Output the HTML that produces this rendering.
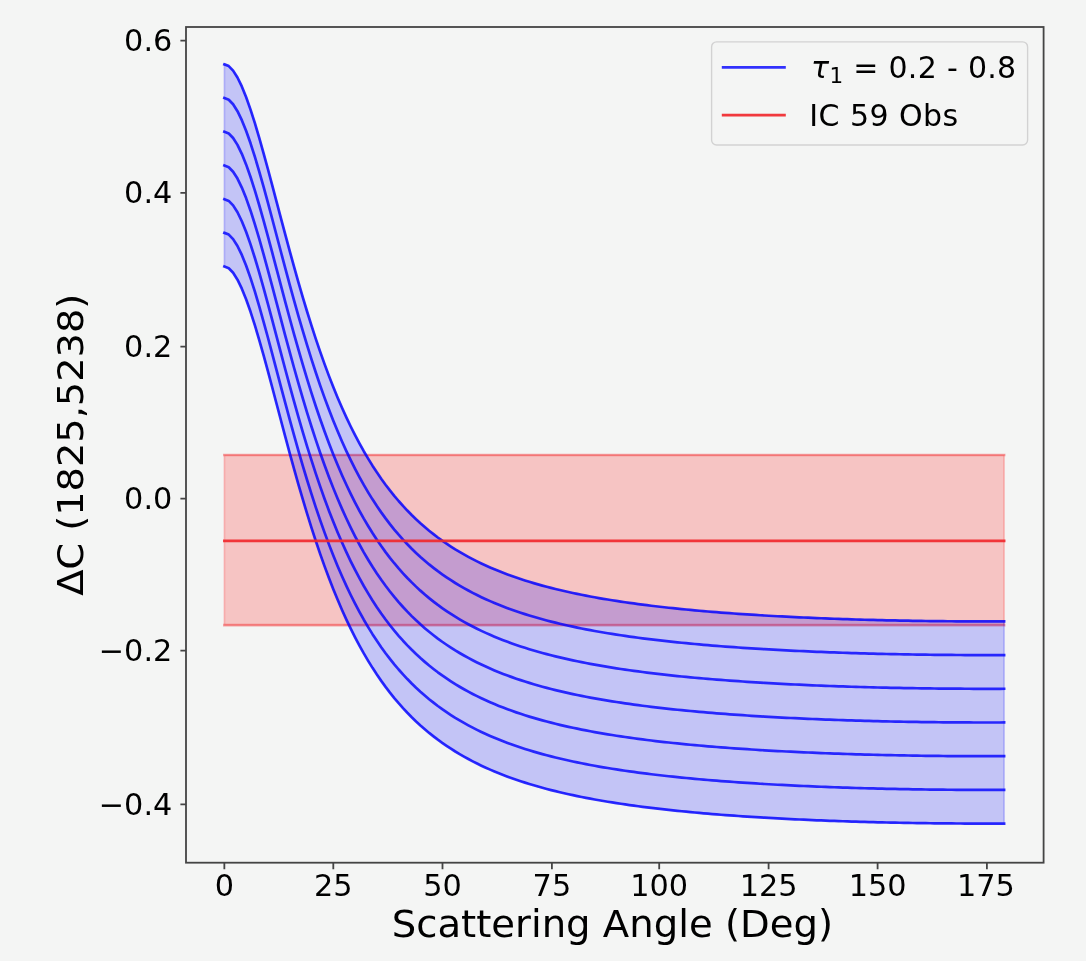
<!DOCTYPE html>
<html><head><meta charset="utf-8"><style>html,body{margin:0;padding:0;background:#f4f5f4;}svg{display:block;}</style></head><body>
<svg width="1086" height="961" viewBox="0 0 1086 961">
<rect width="1086" height="961" fill="#f4f5f4"/>
<g>
<rect x="224.40" y="455.0" width="779.72" height="170.20" fill="#ff0000" fill-opacity="0.2" stroke="#ff0000" stroke-opacity="0.2" stroke-width="1.7"/>
<g stroke="#f02a2e" stroke-opacity="0.38" stroke-width="2.7" stroke-linecap="square" fill="none"><path d="M224.40,455.0 H1004.12"/><path d="M224.40,625.2 H1004.12"/></g>
<path d="M224.40,64.38 L228.76,66.10 L233.11,70.60 L237.47,77.48 L241.82,86.46 L246.18,97.26 L250.54,109.60 L254.89,123.21 L259.25,137.85 L263.60,153.27 L267.96,169.24 L272.32,185.56 L276.67,202.05 L281.03,218.55 L285.38,234.94 L289.74,251.08 L294.10,266.90 L298.45,282.32 L302.81,297.28 L307.16,311.74 L311.52,325.67 L315.88,339.06 L320.23,351.88 L324.59,364.15 L328.94,375.86 L333.30,387.02 L337.66,397.65 L342.01,407.76 L346.37,417.37 L350.72,426.50 L355.08,435.17 L359.44,443.40 L363.79,451.21 L368.15,458.62 L372.50,465.66 L376.86,472.34 L381.22,478.68 L385.57,484.70 L389.93,490.42 L394.28,495.84 L398.64,501.00 L403.00,505.91 L407.35,510.57 L411.71,515.00 L416.06,519.22 L420.42,523.24 L424.78,527.06 L429.13,530.71 L433.49,534.18 L437.84,537.49 L442.20,540.65 L446.56,543.66 L450.91,546.54 L455.27,549.30 L459.62,551.92 L463.98,554.44 L468.34,556.84 L472.69,559.15 L477.05,561.35 L481.40,563.47 L485.76,565.49 L490.12,567.43 L494.47,569.30 L498.83,571.08 L503.18,572.80 L507.54,574.45 L511.90,576.04 L516.25,577.56 L520.61,579.03 L524.96,580.44 L529.32,581.80 L533.68,583.10 L538.03,584.37 L542.39,585.58 L546.74,586.75 L551.10,587.88 L555.46,588.97 L559.81,590.03 L564.17,591.04 L568.52,592.02 L572.88,592.97 L577.24,593.89 L581.59,594.78 L585.95,595.64 L590.30,596.47 L594.66,597.27 L599.02,598.05 L603.37,598.80 L607.73,599.53 L612.08,600.24 L616.44,600.92 L620.80,601.59 L625.15,602.23 L629.51,602.86 L633.86,603.46 L638.22,604.05 L642.58,604.62 L646.93,605.18 L651.29,605.72 L655.64,606.24 L660.00,606.75 L664.36,607.24 L668.71,607.72 L673.07,608.19 L677.42,608.64 L681.78,609.08 L686.14,609.51 L690.49,609.93 L694.85,610.33 L699.20,610.72 L703.56,611.11 L707.92,611.48 L712.27,611.84 L716.63,612.19 L720.98,612.54 L725.34,612.87 L729.70,613.20 L734.05,613.51 L738.41,613.82 L742.76,614.12 L747.12,614.41 L751.48,614.69 L755.83,614.96 L760.19,615.23 L764.54,615.49 L768.90,615.74 L773.26,615.99 L777.61,616.23 L781.97,616.46 L786.32,616.69 L790.68,616.90 L795.04,617.12 L799.39,617.32 L803.75,617.52 L808.10,617.72 L812.46,617.91 L816.82,618.09 L821.17,618.26 L825.53,618.44 L829.88,618.60 L834.24,618.76 L838.60,618.92 L842.95,619.07 L847.31,619.21 L851.66,619.35 L856.02,619.48 L860.38,619.61 L864.73,619.74 L869.09,619.86 L873.44,619.97 L877.80,620.08 L882.16,620.19 L886.51,620.29 L890.87,620.38 L895.22,620.47 L899.58,620.56 L903.94,620.64 L908.29,620.72 L912.65,620.79 L917.00,620.86 L921.36,620.93 L925.72,620.99 L930.07,621.04 L934.43,621.10 L938.78,621.14 L943.14,621.19 L947.50,621.23 L951.85,621.26 L956.21,621.29 L960.56,621.32 L964.92,621.34 L969.28,621.36 L973.63,621.38 L977.99,621.39 L982.34,621.39 L986.70,621.40 L991.06,621.39 L995.41,621.39 L999.77,621.38 L1004.12,621.37 L1004.12,823.57 L999.77,823.58 L995.41,823.59 L991.06,823.59 L986.70,823.60 L982.34,823.59 L977.99,823.59 L973.63,823.58 L969.28,823.56 L964.92,823.54 L960.56,823.52 L956.21,823.49 L951.85,823.46 L947.50,823.43 L943.14,823.39 L938.78,823.34 L934.43,823.30 L930.07,823.24 L925.72,823.19 L921.36,823.13 L917.00,823.06 L912.65,822.99 L908.29,822.92 L903.94,822.84 L899.58,822.76 L895.22,822.67 L890.87,822.58 L886.51,822.49 L882.16,822.39 L877.80,822.28 L873.44,822.17 L869.09,822.06 L864.73,821.94 L860.38,821.81 L856.02,821.68 L851.66,821.55 L847.31,821.41 L842.95,821.27 L838.60,821.12 L834.24,820.96 L829.88,820.80 L825.53,820.64 L821.17,820.46 L816.82,820.29 L812.46,820.11 L808.10,819.92 L803.75,819.72 L799.39,819.52 L795.04,819.32 L790.68,819.10 L786.32,818.89 L781.97,818.66 L777.61,818.43 L773.26,818.19 L768.90,817.94 L764.54,817.69 L760.19,817.43 L755.83,817.16 L751.48,816.89 L747.12,816.61 L742.76,816.32 L738.41,816.02 L734.05,815.71 L729.70,815.40 L725.34,815.07 L720.98,814.74 L716.63,814.39 L712.27,814.04 L707.92,813.68 L703.56,813.31 L699.20,812.92 L694.85,812.53 L690.49,812.13 L686.14,811.71 L681.78,811.28 L677.42,810.84 L673.07,810.39 L668.71,809.92 L664.36,809.44 L660.00,808.95 L655.64,808.44 L651.29,807.92 L646.93,807.38 L642.58,806.82 L638.22,806.25 L633.86,805.66 L629.51,805.06 L625.15,804.43 L620.80,803.79 L616.44,803.12 L612.08,802.44 L607.73,801.73 L603.37,801.00 L599.02,800.25 L594.66,799.47 L590.30,798.67 L585.95,797.84 L581.59,796.98 L577.24,796.09 L572.88,795.17 L568.52,794.22 L564.17,793.24 L559.81,792.23 L555.46,791.17 L551.10,790.08 L546.74,788.95 L542.39,787.78 L538.03,786.57 L533.68,785.30 L529.32,784.00 L524.96,782.64 L520.61,781.23 L516.25,779.76 L511.90,778.24 L507.54,776.65 L503.18,775.00 L498.83,773.28 L494.47,771.50 L490.12,769.63 L485.76,767.69 L481.40,765.67 L477.05,763.55 L472.69,761.35 L468.34,759.04 L463.98,756.64 L459.62,754.12 L455.27,751.50 L450.91,748.74 L446.56,745.86 L442.20,742.85 L437.84,739.69 L433.49,736.38 L429.13,732.91 L424.78,729.26 L420.42,725.44 L416.06,721.42 L411.71,717.20 L407.35,712.77 L403.00,708.11 L398.64,703.20 L394.28,698.04 L389.93,692.62 L385.57,686.90 L381.22,680.88 L376.86,674.54 L372.50,667.86 L368.15,660.82 L363.79,653.41 L359.44,645.60 L355.08,637.37 L350.72,628.70 L346.37,619.57 L342.01,609.96 L337.66,599.85 L333.30,589.22 L328.94,578.06 L324.59,566.35 L320.23,554.08 L315.88,541.26 L311.52,527.87 L307.16,513.94 L302.81,499.48 L298.45,484.52 L294.10,469.10 L289.74,453.28 L285.38,437.14 L281.03,420.75 L276.67,404.25 L272.32,387.76 L267.96,371.44 L263.60,355.47 L259.25,340.05 L254.89,325.41 L250.54,311.80 L246.18,299.46 L241.82,288.66 L237.47,279.68 L233.11,272.80 L228.76,268.30 L224.40,266.58 Z" fill="#0000ff" fill-opacity="0.2" stroke="#0000ff" stroke-opacity="0.2" stroke-width="1.7"/>
<g fill="none" stroke="#0000ff" stroke-opacity="0.8" stroke-width="2.7" stroke-linejoin="round" stroke-linecap="square">
<path d="M224.40,64.38 L228.76,66.10 L233.11,70.60 L237.47,77.48 L241.82,86.46 L246.18,97.26 L250.54,109.60 L254.89,123.21 L259.25,137.85 L263.60,153.27 L267.96,169.24 L272.32,185.56 L276.67,202.05 L281.03,218.55 L285.38,234.94 L289.74,251.08 L294.10,266.90 L298.45,282.32 L302.81,297.28 L307.16,311.74 L311.52,325.67 L315.88,339.06 L320.23,351.88 L324.59,364.15 L328.94,375.86 L333.30,387.02 L337.66,397.65 L342.01,407.76 L346.37,417.37 L350.72,426.50 L355.08,435.17 L359.44,443.40 L363.79,451.21 L368.15,458.62 L372.50,465.66 L376.86,472.34 L381.22,478.68 L385.57,484.70 L389.93,490.42 L394.28,495.84 L398.64,501.00 L403.00,505.91 L407.35,510.57 L411.71,515.00 L416.06,519.22 L420.42,523.24 L424.78,527.06 L429.13,530.71 L433.49,534.18 L437.84,537.49 L442.20,540.65 L446.56,543.66 L450.91,546.54 L455.27,549.30 L459.62,551.92 L463.98,554.44 L468.34,556.84 L472.69,559.15 L477.05,561.35 L481.40,563.47 L485.76,565.49 L490.12,567.43 L494.47,569.30 L498.83,571.08 L503.18,572.80 L507.54,574.45 L511.90,576.04 L516.25,577.56 L520.61,579.03 L524.96,580.44 L529.32,581.80 L533.68,583.10 L538.03,584.37 L542.39,585.58 L546.74,586.75 L551.10,587.88 L555.46,588.97 L559.81,590.03 L564.17,591.04 L568.52,592.02 L572.88,592.97 L577.24,593.89 L581.59,594.78 L585.95,595.64 L590.30,596.47 L594.66,597.27 L599.02,598.05 L603.37,598.80 L607.73,599.53 L612.08,600.24 L616.44,600.92 L620.80,601.59 L625.15,602.23 L629.51,602.86 L633.86,603.46 L638.22,604.05 L642.58,604.62 L646.93,605.18 L651.29,605.72 L655.64,606.24 L660.00,606.75 L664.36,607.24 L668.71,607.72 L673.07,608.19 L677.42,608.64 L681.78,609.08 L686.14,609.51 L690.49,609.93 L694.85,610.33 L699.20,610.72 L703.56,611.11 L707.92,611.48 L712.27,611.84 L716.63,612.19 L720.98,612.54 L725.34,612.87 L729.70,613.20 L734.05,613.51 L738.41,613.82 L742.76,614.12 L747.12,614.41 L751.48,614.69 L755.83,614.96 L760.19,615.23 L764.54,615.49 L768.90,615.74 L773.26,615.99 L777.61,616.23 L781.97,616.46 L786.32,616.69 L790.68,616.90 L795.04,617.12 L799.39,617.32 L803.75,617.52 L808.10,617.72 L812.46,617.91 L816.82,618.09 L821.17,618.26 L825.53,618.44 L829.88,618.60 L834.24,618.76 L838.60,618.92 L842.95,619.07 L847.31,619.21 L851.66,619.35 L856.02,619.48 L860.38,619.61 L864.73,619.74 L869.09,619.86 L873.44,619.97 L877.80,620.08 L882.16,620.19 L886.51,620.29 L890.87,620.38 L895.22,620.47 L899.58,620.56 L903.94,620.64 L908.29,620.72 L912.65,620.79 L917.00,620.86 L921.36,620.93 L925.72,620.99 L930.07,621.04 L934.43,621.10 L938.78,621.14 L943.14,621.19 L947.50,621.23 L951.85,621.26 L956.21,621.29 L960.56,621.32 L964.92,621.34 L969.28,621.36 L973.63,621.38 L977.99,621.39 L982.34,621.39 L986.70,621.40 L991.06,621.39 L995.41,621.39 L999.77,621.38 L1004.12,621.37"/>
<path d="M224.40,98.08 L228.76,99.80 L233.11,104.30 L237.47,111.18 L241.82,120.16 L246.18,130.96 L250.54,143.30 L254.89,156.91 L259.25,171.55 L263.60,186.97 L267.96,202.94 L272.32,219.26 L276.67,235.75 L281.03,252.25 L285.38,268.64 L289.74,284.78 L294.10,300.60 L298.45,316.02 L302.81,330.98 L307.16,345.44 L311.52,359.37 L315.88,372.76 L320.23,385.58 L324.59,397.85 L328.94,409.56 L333.30,420.72 L337.66,431.35 L342.01,441.46 L346.37,451.07 L350.72,460.20 L355.08,468.87 L359.44,477.10 L363.79,484.91 L368.15,492.32 L372.50,499.36 L376.86,506.04 L381.22,512.38 L385.57,518.40 L389.93,524.12 L394.28,529.54 L398.64,534.70 L403.00,539.61 L407.35,544.27 L411.71,548.70 L416.06,552.92 L420.42,556.94 L424.78,560.76 L429.13,564.41 L433.49,567.88 L437.84,571.19 L442.20,574.35 L446.56,577.36 L450.91,580.24 L455.27,583.00 L459.62,585.62 L463.98,588.14 L468.34,590.54 L472.69,592.85 L477.05,595.05 L481.40,597.17 L485.76,599.19 L490.12,601.13 L494.47,603.00 L498.83,604.78 L503.18,606.50 L507.54,608.15 L511.90,609.74 L516.25,611.26 L520.61,612.73 L524.96,614.14 L529.32,615.50 L533.68,616.80 L538.03,618.07 L542.39,619.28 L546.74,620.45 L551.10,621.58 L555.46,622.67 L559.81,623.73 L564.17,624.74 L568.52,625.72 L572.88,626.67 L577.24,627.59 L581.59,628.48 L585.95,629.34 L590.30,630.17 L594.66,630.97 L599.02,631.75 L603.37,632.50 L607.73,633.23 L612.08,633.94 L616.44,634.62 L620.80,635.29 L625.15,635.93 L629.51,636.56 L633.86,637.16 L638.22,637.75 L642.58,638.32 L646.93,638.88 L651.29,639.42 L655.64,639.94 L660.00,640.45 L664.36,640.94 L668.71,641.42 L673.07,641.89 L677.42,642.34 L681.78,642.78 L686.14,643.21 L690.49,643.63 L694.85,644.03 L699.20,644.42 L703.56,644.81 L707.92,645.18 L712.27,645.54 L716.63,645.89 L720.98,646.24 L725.34,646.57 L729.70,646.90 L734.05,647.21 L738.41,647.52 L742.76,647.82 L747.12,648.11 L751.48,648.39 L755.83,648.66 L760.19,648.93 L764.54,649.19 L768.90,649.44 L773.26,649.69 L777.61,649.93 L781.97,650.16 L786.32,650.39 L790.68,650.60 L795.04,650.82 L799.39,651.02 L803.75,651.22 L808.10,651.42 L812.46,651.61 L816.82,651.79 L821.17,651.96 L825.53,652.14 L829.88,652.30 L834.24,652.46 L838.60,652.62 L842.95,652.77 L847.31,652.91 L851.66,653.05 L856.02,653.18 L860.38,653.31 L864.73,653.44 L869.09,653.56 L873.44,653.67 L877.80,653.78 L882.16,653.89 L886.51,653.99 L890.87,654.08 L895.22,654.17 L899.58,654.26 L903.94,654.34 L908.29,654.42 L912.65,654.49 L917.00,654.56 L921.36,654.63 L925.72,654.69 L930.07,654.74 L934.43,654.80 L938.78,654.84 L943.14,654.89 L947.50,654.93 L951.85,654.96 L956.21,654.99 L960.56,655.02 L964.92,655.04 L969.28,655.06 L973.63,655.08 L977.99,655.09 L982.34,655.09 L986.70,655.10 L991.06,655.09 L995.41,655.09 L999.77,655.08 L1004.12,655.07"/>
<path d="M224.40,131.78 L228.76,133.50 L233.11,138.00 L237.47,144.88 L241.82,153.86 L246.18,164.66 L250.54,177.00 L254.89,190.61 L259.25,205.25 L263.60,220.67 L267.96,236.64 L272.32,252.96 L276.67,269.45 L281.03,285.95 L285.38,302.34 L289.74,318.48 L294.10,334.30 L298.45,349.72 L302.81,364.68 L307.16,379.14 L311.52,393.07 L315.88,406.46 L320.23,419.28 L324.59,431.55 L328.94,443.26 L333.30,454.42 L337.66,465.05 L342.01,475.16 L346.37,484.77 L350.72,493.90 L355.08,502.57 L359.44,510.80 L363.79,518.61 L368.15,526.02 L372.50,533.06 L376.86,539.74 L381.22,546.08 L385.57,552.10 L389.93,557.82 L394.28,563.24 L398.64,568.40 L403.00,573.31 L407.35,577.97 L411.71,582.40 L416.06,586.62 L420.42,590.64 L424.78,594.46 L429.13,598.11 L433.49,601.58 L437.84,604.89 L442.20,608.05 L446.56,611.06 L450.91,613.94 L455.27,616.70 L459.62,619.32 L463.98,621.84 L468.34,624.24 L472.69,626.55 L477.05,628.75 L481.40,630.87 L485.76,632.89 L490.12,634.83 L494.47,636.70 L498.83,638.48 L503.18,640.20 L507.54,641.85 L511.90,643.44 L516.25,644.96 L520.61,646.43 L524.96,647.84 L529.32,649.20 L533.68,650.50 L538.03,651.77 L542.39,652.98 L546.74,654.15 L551.10,655.28 L555.46,656.37 L559.81,657.43 L564.17,658.44 L568.52,659.42 L572.88,660.37 L577.24,661.29 L581.59,662.18 L585.95,663.04 L590.30,663.87 L594.66,664.67 L599.02,665.45 L603.37,666.20 L607.73,666.93 L612.08,667.64 L616.44,668.32 L620.80,668.99 L625.15,669.63 L629.51,670.26 L633.86,670.86 L638.22,671.45 L642.58,672.02 L646.93,672.58 L651.29,673.12 L655.64,673.64 L660.00,674.15 L664.36,674.64 L668.71,675.12 L673.07,675.59 L677.42,676.04 L681.78,676.48 L686.14,676.91 L690.49,677.33 L694.85,677.73 L699.20,678.12 L703.56,678.51 L707.92,678.88 L712.27,679.24 L716.63,679.59 L720.98,679.94 L725.34,680.27 L729.70,680.60 L734.05,680.91 L738.41,681.22 L742.76,681.52 L747.12,681.81 L751.48,682.09 L755.83,682.36 L760.19,682.63 L764.54,682.89 L768.90,683.14 L773.26,683.39 L777.61,683.63 L781.97,683.86 L786.32,684.09 L790.68,684.30 L795.04,684.52 L799.39,684.72 L803.75,684.92 L808.10,685.12 L812.46,685.31 L816.82,685.49 L821.17,685.66 L825.53,685.84 L829.88,686.00 L834.24,686.16 L838.60,686.32 L842.95,686.47 L847.31,686.61 L851.66,686.75 L856.02,686.88 L860.38,687.01 L864.73,687.14 L869.09,687.26 L873.44,687.37 L877.80,687.48 L882.16,687.59 L886.51,687.69 L890.87,687.78 L895.22,687.87 L899.58,687.96 L903.94,688.04 L908.29,688.12 L912.65,688.19 L917.00,688.26 L921.36,688.33 L925.72,688.39 L930.07,688.44 L934.43,688.50 L938.78,688.54 L943.14,688.59 L947.50,688.63 L951.85,688.66 L956.21,688.69 L960.56,688.72 L964.92,688.74 L969.28,688.76 L973.63,688.78 L977.99,688.79 L982.34,688.79 L986.70,688.80 L991.06,688.79 L995.41,688.79 L999.77,688.78 L1004.12,688.77"/>
<path d="M224.40,165.48 L228.76,167.20 L233.11,171.70 L237.47,178.58 L241.82,187.56 L246.18,198.36 L250.54,210.70 L254.89,224.31 L259.25,238.95 L263.60,254.37 L267.96,270.34 L272.32,286.66 L276.67,303.15 L281.03,319.65 L285.38,336.04 L289.74,352.18 L294.10,368.00 L298.45,383.42 L302.81,398.38 L307.16,412.84 L311.52,426.77 L315.88,440.16 L320.23,452.98 L324.59,465.25 L328.94,476.96 L333.30,488.12 L337.66,498.75 L342.01,508.86 L346.37,518.47 L350.72,527.60 L355.08,536.27 L359.44,544.50 L363.79,552.31 L368.15,559.72 L372.50,566.76 L376.86,573.44 L381.22,579.78 L385.57,585.80 L389.93,591.52 L394.28,596.94 L398.64,602.10 L403.00,607.01 L407.35,611.67 L411.71,616.10 L416.06,620.32 L420.42,624.34 L424.78,628.16 L429.13,631.81 L433.49,635.28 L437.84,638.59 L442.20,641.75 L446.56,644.76 L450.91,647.64 L455.27,650.40 L459.62,653.02 L463.98,655.54 L468.34,657.94 L472.69,660.25 L477.05,662.45 L481.40,664.57 L485.76,666.59 L490.12,668.53 L494.47,670.40 L498.83,672.18 L503.18,673.90 L507.54,675.55 L511.90,677.14 L516.25,678.66 L520.61,680.13 L524.96,681.54 L529.32,682.90 L533.68,684.20 L538.03,685.47 L542.39,686.68 L546.74,687.85 L551.10,688.98 L555.46,690.07 L559.81,691.13 L564.17,692.14 L568.52,693.12 L572.88,694.07 L577.24,694.99 L581.59,695.88 L585.95,696.74 L590.30,697.57 L594.66,698.37 L599.02,699.15 L603.37,699.90 L607.73,700.63 L612.08,701.34 L616.44,702.02 L620.80,702.69 L625.15,703.33 L629.51,703.96 L633.86,704.56 L638.22,705.15 L642.58,705.72 L646.93,706.28 L651.29,706.82 L655.64,707.34 L660.00,707.85 L664.36,708.34 L668.71,708.82 L673.07,709.29 L677.42,709.74 L681.78,710.18 L686.14,710.61 L690.49,711.03 L694.85,711.43 L699.20,711.82 L703.56,712.21 L707.92,712.58 L712.27,712.94 L716.63,713.29 L720.98,713.64 L725.34,713.97 L729.70,714.30 L734.05,714.61 L738.41,714.92 L742.76,715.22 L747.12,715.51 L751.48,715.79 L755.83,716.06 L760.19,716.33 L764.54,716.59 L768.90,716.84 L773.26,717.09 L777.61,717.33 L781.97,717.56 L786.32,717.79 L790.68,718.00 L795.04,718.22 L799.39,718.42 L803.75,718.62 L808.10,718.82 L812.46,719.01 L816.82,719.19 L821.17,719.36 L825.53,719.54 L829.88,719.70 L834.24,719.86 L838.60,720.02 L842.95,720.17 L847.31,720.31 L851.66,720.45 L856.02,720.58 L860.38,720.71 L864.73,720.84 L869.09,720.96 L873.44,721.07 L877.80,721.18 L882.16,721.29 L886.51,721.39 L890.87,721.48 L895.22,721.57 L899.58,721.66 L903.94,721.74 L908.29,721.82 L912.65,721.89 L917.00,721.96 L921.36,722.03 L925.72,722.09 L930.07,722.14 L934.43,722.20 L938.78,722.24 L943.14,722.29 L947.50,722.33 L951.85,722.36 L956.21,722.39 L960.56,722.42 L964.92,722.44 L969.28,722.46 L973.63,722.48 L977.99,722.49 L982.34,722.49 L986.70,722.50 L991.06,722.49 L995.41,722.49 L999.77,722.48 L1004.12,722.47"/>
<path d="M224.40,199.18 L228.76,200.90 L233.11,205.40 L237.47,212.28 L241.82,221.26 L246.18,232.06 L250.54,244.40 L254.89,258.01 L259.25,272.65 L263.60,288.07 L267.96,304.04 L272.32,320.36 L276.67,336.85 L281.03,353.35 L285.38,369.74 L289.74,385.88 L294.10,401.70 L298.45,417.12 L302.81,432.08 L307.16,446.54 L311.52,460.47 L315.88,473.86 L320.23,486.68 L324.59,498.95 L328.94,510.66 L333.30,521.82 L337.66,532.45 L342.01,542.56 L346.37,552.17 L350.72,561.30 L355.08,569.97 L359.44,578.20 L363.79,586.01 L368.15,593.42 L372.50,600.46 L376.86,607.14 L381.22,613.48 L385.57,619.50 L389.93,625.22 L394.28,630.64 L398.64,635.80 L403.00,640.71 L407.35,645.37 L411.71,649.80 L416.06,654.02 L420.42,658.04 L424.78,661.86 L429.13,665.51 L433.49,668.98 L437.84,672.29 L442.20,675.45 L446.56,678.46 L450.91,681.34 L455.27,684.10 L459.62,686.72 L463.98,689.24 L468.34,691.64 L472.69,693.95 L477.05,696.15 L481.40,698.27 L485.76,700.29 L490.12,702.23 L494.47,704.10 L498.83,705.88 L503.18,707.60 L507.54,709.25 L511.90,710.84 L516.25,712.36 L520.61,713.83 L524.96,715.24 L529.32,716.60 L533.68,717.90 L538.03,719.17 L542.39,720.38 L546.74,721.55 L551.10,722.68 L555.46,723.77 L559.81,724.83 L564.17,725.84 L568.52,726.82 L572.88,727.77 L577.24,728.69 L581.59,729.58 L585.95,730.44 L590.30,731.27 L594.66,732.07 L599.02,732.85 L603.37,733.60 L607.73,734.33 L612.08,735.04 L616.44,735.72 L620.80,736.39 L625.15,737.03 L629.51,737.66 L633.86,738.26 L638.22,738.85 L642.58,739.42 L646.93,739.98 L651.29,740.52 L655.64,741.04 L660.00,741.55 L664.36,742.04 L668.71,742.52 L673.07,742.99 L677.42,743.44 L681.78,743.88 L686.14,744.31 L690.49,744.73 L694.85,745.13 L699.20,745.52 L703.56,745.91 L707.92,746.28 L712.27,746.64 L716.63,746.99 L720.98,747.34 L725.34,747.67 L729.70,748.00 L734.05,748.31 L738.41,748.62 L742.76,748.92 L747.12,749.21 L751.48,749.49 L755.83,749.76 L760.19,750.03 L764.54,750.29 L768.90,750.54 L773.26,750.79 L777.61,751.03 L781.97,751.26 L786.32,751.49 L790.68,751.70 L795.04,751.92 L799.39,752.12 L803.75,752.32 L808.10,752.52 L812.46,752.71 L816.82,752.89 L821.17,753.06 L825.53,753.24 L829.88,753.40 L834.24,753.56 L838.60,753.72 L842.95,753.87 L847.31,754.01 L851.66,754.15 L856.02,754.28 L860.38,754.41 L864.73,754.54 L869.09,754.66 L873.44,754.77 L877.80,754.88 L882.16,754.99 L886.51,755.09 L890.87,755.18 L895.22,755.27 L899.58,755.36 L903.94,755.44 L908.29,755.52 L912.65,755.59 L917.00,755.66 L921.36,755.73 L925.72,755.79 L930.07,755.84 L934.43,755.90 L938.78,755.94 L943.14,755.99 L947.50,756.03 L951.85,756.06 L956.21,756.09 L960.56,756.12 L964.92,756.14 L969.28,756.16 L973.63,756.18 L977.99,756.19 L982.34,756.19 L986.70,756.20 L991.06,756.19 L995.41,756.19 L999.77,756.18 L1004.12,756.17"/>
<path d="M224.40,232.88 L228.76,234.60 L233.11,239.10 L237.47,245.98 L241.82,254.96 L246.18,265.76 L250.54,278.10 L254.89,291.71 L259.25,306.35 L263.60,321.77 L267.96,337.74 L272.32,354.06 L276.67,370.55 L281.03,387.05 L285.38,403.44 L289.74,419.58 L294.10,435.40 L298.45,450.82 L302.81,465.78 L307.16,480.24 L311.52,494.17 L315.88,507.56 L320.23,520.38 L324.59,532.65 L328.94,544.36 L333.30,555.52 L337.66,566.15 L342.01,576.26 L346.37,585.87 L350.72,595.00 L355.08,603.67 L359.44,611.90 L363.79,619.71 L368.15,627.12 L372.50,634.16 L376.86,640.84 L381.22,647.18 L385.57,653.20 L389.93,658.92 L394.28,664.34 L398.64,669.50 L403.00,674.41 L407.35,679.07 L411.71,683.50 L416.06,687.72 L420.42,691.74 L424.78,695.56 L429.13,699.21 L433.49,702.68 L437.84,705.99 L442.20,709.15 L446.56,712.16 L450.91,715.04 L455.27,717.80 L459.62,720.42 L463.98,722.94 L468.34,725.34 L472.69,727.65 L477.05,729.85 L481.40,731.97 L485.76,733.99 L490.12,735.93 L494.47,737.80 L498.83,739.58 L503.18,741.30 L507.54,742.95 L511.90,744.54 L516.25,746.06 L520.61,747.53 L524.96,748.94 L529.32,750.30 L533.68,751.60 L538.03,752.87 L542.39,754.08 L546.74,755.25 L551.10,756.38 L555.46,757.47 L559.81,758.53 L564.17,759.54 L568.52,760.52 L572.88,761.47 L577.24,762.39 L581.59,763.28 L585.95,764.14 L590.30,764.97 L594.66,765.77 L599.02,766.55 L603.37,767.30 L607.73,768.03 L612.08,768.74 L616.44,769.42 L620.80,770.09 L625.15,770.73 L629.51,771.36 L633.86,771.96 L638.22,772.55 L642.58,773.12 L646.93,773.68 L651.29,774.22 L655.64,774.74 L660.00,775.25 L664.36,775.74 L668.71,776.22 L673.07,776.69 L677.42,777.14 L681.78,777.58 L686.14,778.01 L690.49,778.43 L694.85,778.83 L699.20,779.22 L703.56,779.61 L707.92,779.98 L712.27,780.34 L716.63,780.69 L720.98,781.04 L725.34,781.37 L729.70,781.70 L734.05,782.01 L738.41,782.32 L742.76,782.62 L747.12,782.91 L751.48,783.19 L755.83,783.46 L760.19,783.73 L764.54,783.99 L768.90,784.24 L773.26,784.49 L777.61,784.73 L781.97,784.96 L786.32,785.19 L790.68,785.40 L795.04,785.62 L799.39,785.82 L803.75,786.02 L808.10,786.22 L812.46,786.41 L816.82,786.59 L821.17,786.76 L825.53,786.94 L829.88,787.10 L834.24,787.26 L838.60,787.42 L842.95,787.57 L847.31,787.71 L851.66,787.85 L856.02,787.98 L860.38,788.11 L864.73,788.24 L869.09,788.36 L873.44,788.47 L877.80,788.58 L882.16,788.69 L886.51,788.79 L890.87,788.88 L895.22,788.97 L899.58,789.06 L903.94,789.14 L908.29,789.22 L912.65,789.29 L917.00,789.36 L921.36,789.43 L925.72,789.49 L930.07,789.54 L934.43,789.60 L938.78,789.64 L943.14,789.69 L947.50,789.73 L951.85,789.76 L956.21,789.79 L960.56,789.82 L964.92,789.84 L969.28,789.86 L973.63,789.88 L977.99,789.89 L982.34,789.89 L986.70,789.90 L991.06,789.89 L995.41,789.89 L999.77,789.88 L1004.12,789.87"/>
<path d="M224.40,266.58 L228.76,268.30 L233.11,272.80 L237.47,279.68 L241.82,288.66 L246.18,299.46 L250.54,311.80 L254.89,325.41 L259.25,340.05 L263.60,355.47 L267.96,371.44 L272.32,387.76 L276.67,404.25 L281.03,420.75 L285.38,437.14 L289.74,453.28 L294.10,469.10 L298.45,484.52 L302.81,499.48 L307.16,513.94 L311.52,527.87 L315.88,541.26 L320.23,554.08 L324.59,566.35 L328.94,578.06 L333.30,589.22 L337.66,599.85 L342.01,609.96 L346.37,619.57 L350.72,628.70 L355.08,637.37 L359.44,645.60 L363.79,653.41 L368.15,660.82 L372.50,667.86 L376.86,674.54 L381.22,680.88 L385.57,686.90 L389.93,692.62 L394.28,698.04 L398.64,703.20 L403.00,708.11 L407.35,712.77 L411.71,717.20 L416.06,721.42 L420.42,725.44 L424.78,729.26 L429.13,732.91 L433.49,736.38 L437.84,739.69 L442.20,742.85 L446.56,745.86 L450.91,748.74 L455.27,751.50 L459.62,754.12 L463.98,756.64 L468.34,759.04 L472.69,761.35 L477.05,763.55 L481.40,765.67 L485.76,767.69 L490.12,769.63 L494.47,771.50 L498.83,773.28 L503.18,775.00 L507.54,776.65 L511.90,778.24 L516.25,779.76 L520.61,781.23 L524.96,782.64 L529.32,784.00 L533.68,785.30 L538.03,786.57 L542.39,787.78 L546.74,788.95 L551.10,790.08 L555.46,791.17 L559.81,792.23 L564.17,793.24 L568.52,794.22 L572.88,795.17 L577.24,796.09 L581.59,796.98 L585.95,797.84 L590.30,798.67 L594.66,799.47 L599.02,800.25 L603.37,801.00 L607.73,801.73 L612.08,802.44 L616.44,803.12 L620.80,803.79 L625.15,804.43 L629.51,805.06 L633.86,805.66 L638.22,806.25 L642.58,806.82 L646.93,807.38 L651.29,807.92 L655.64,808.44 L660.00,808.95 L664.36,809.44 L668.71,809.92 L673.07,810.39 L677.42,810.84 L681.78,811.28 L686.14,811.71 L690.49,812.13 L694.85,812.53 L699.20,812.92 L703.56,813.31 L707.92,813.68 L712.27,814.04 L716.63,814.39 L720.98,814.74 L725.34,815.07 L729.70,815.40 L734.05,815.71 L738.41,816.02 L742.76,816.32 L747.12,816.61 L751.48,816.89 L755.83,817.16 L760.19,817.43 L764.54,817.69 L768.90,817.94 L773.26,818.19 L777.61,818.43 L781.97,818.66 L786.32,818.89 L790.68,819.10 L795.04,819.32 L799.39,819.52 L803.75,819.72 L808.10,819.92 L812.46,820.11 L816.82,820.29 L821.17,820.46 L825.53,820.64 L829.88,820.80 L834.24,820.96 L838.60,821.12 L842.95,821.27 L847.31,821.41 L851.66,821.55 L856.02,821.68 L860.38,821.81 L864.73,821.94 L869.09,822.06 L873.44,822.17 L877.80,822.28 L882.16,822.39 L886.51,822.49 L890.87,822.58 L895.22,822.67 L899.58,822.76 L903.94,822.84 L908.29,822.92 L912.65,822.99 L917.00,823.06 L921.36,823.13 L925.72,823.19 L930.07,823.24 L934.43,823.30 L938.78,823.34 L943.14,823.39 L947.50,823.43 L951.85,823.46 L956.21,823.49 L960.56,823.52 L964.92,823.54 L969.28,823.56 L973.63,823.58 L977.99,823.59 L982.34,823.59 L986.70,823.60 L991.06,823.59 L995.41,823.59 L999.77,823.58 L1004.12,823.57"/>
</g>
<path d="M224.40,540.8 H1004.12" stroke="#f02a2e" stroke-opacity="0.93" stroke-width="2.7" stroke-linecap="square" fill="none"/>
<rect x="186.0" y="27.0" width="857.60" height="835.70" fill="none" stroke="#444" stroke-width="1.8"/>
<path d="M224.35,862.7 v6.5 M333.30,862.7 v6.5 M442.50,862.7 v6.5 M551.90,862.7 v6.5 M659.20,862.7 v6.5 M768.60,862.7 v6.5 M877.60,862.7 v6.5 M986.90,862.7 v6.5 M186.0,40.60 h-5.6 M186.0,192.80 h-5.6 M186.0,346.60 h-5.6 M186.0,498.70 h-5.6 M186.0,650.70 h-5.6 M186.0,804.40 h-5.6" stroke="#444" stroke-width="1.8" fill="none"/>
<g font-family="DejaVu Sans, sans-serif" font-size="30.3" fill="#000">
<text x="224.35" y="895.6" text-anchor="middle">0</text>
<text x="333.30" y="895.6" text-anchor="middle">25</text>
<text x="442.50" y="895.6" text-anchor="middle">50</text>
<text x="551.90" y="895.6" text-anchor="middle">75</text>
<text x="659.20" y="895.6" text-anchor="middle">100</text>
<text x="768.60" y="895.6" text-anchor="middle">125</text>
<text x="877.60" y="895.6" text-anchor="middle">150</text>
<text x="985.90" y="895.6" text-anchor="middle">175</text>
<text x="172.3" y="50.80" text-anchor="end">0.6</text>
<text x="172.3" y="203.00" text-anchor="end">0.4</text>
<text x="172.3" y="356.80" text-anchor="end">0.2</text>
<text x="172.3" y="508.90" text-anchor="end">0.0</text>
<text x="172.3" y="660.90" text-anchor="end">−0.2</text>
<text x="172.3" y="814.60" text-anchor="end">−0.4</text>
</g>
<text transform="translate(612.35,937.2) scale(1,0.963)" text-anchor="middle" font-family="DejaVu Sans, sans-serif" font-size="38.6" letter-spacing="0" fill="#000">Scattering Angle (Deg)</text>
<text transform="translate(83.4,444.8) rotate(-90) scale(1,0.922)" text-anchor="middle" font-family="DejaVu Sans, sans-serif" font-size="38.3" letter-spacing="0" fill="#000">ΔC (1825,5238)</text>
<rect x="711.6" y="41.9" width="316.0" height="103.1" rx="5" ry="5" fill="#f4f5f4" fill-opacity="0.8" stroke="#d2d2d2" stroke-width="1.4"/>
<path d="M721.8,67.4 H785.8" stroke="#0000ff" stroke-opacity="0.8" stroke-width="2.7"/>
<path d="M721.8,115.1 H785.8" stroke="#f02a2e" stroke-opacity="0.93" stroke-width="2.7"/>
<g font-family="DejaVu Sans, sans-serif" font-size="30" fill="#000">
<text x="811" y="78.4" letter-spacing="0.3"><tspan font-style="italic">τ</tspan><tspan font-size="21.5" dy="4.5">1</tspan><tspan dy="-4.5"> = 0.2 - 0.8</tspan></text>
<text x="809.3" y="125.8" letter-spacing="0.45">IC 59 Obs</text>
</g>
</g>
</svg>
</body></html>
